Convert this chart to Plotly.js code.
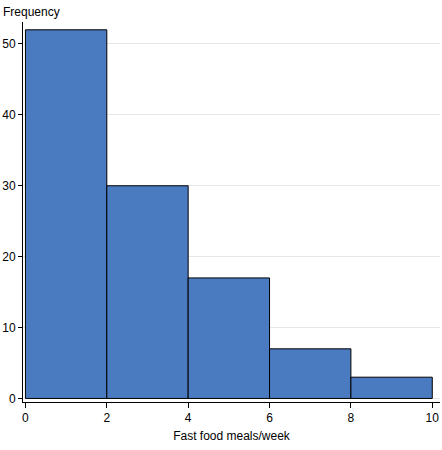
<!DOCTYPE html>
<html>
<head>
<meta charset="utf-8">
<script src="https://cdn.plot.ly/plotly-3.0.1.min.js"></script>
<style>body{margin:0;}</style>
</head>
<body>
<div id="chart" style="width:442px;height:450px;"></div>
<script>
// bin midpoints of 2-wide bins and their counts
let binMids = [1, 3, 5, 7, 9]
let counts = [52, 30, 17, 7, 3]
let xTicks = [0, 2, 4, 6, 8, 10]
let yTicks = [0, 10, 20, 30, 40, 50]

let data = [{
  x: binMids,
  y: counts,
  type: 'bar',
  width: 2,
  marker: {color: '#4a7bc1', line: {color: '#000000', width: 1}},
  hoverinfo: 'none'
}]

let layout = {
  width: 442,
  height: 450,
  margin: {l: 23, r: 2, t: 22, b: 48},
  font: {family: 'Liberation Sans, Arial, sans-serif', size: 12, color: '#000'},
  plot_bgcolor: '#fff',
  paper_bgcolor: '#fff',
  showlegend: false,
  bargap: 0,
  xaxis: {
    range: [-0.06, 10.19],
    tickvals: xTicks,
    tickfont: {size: 12},
    ticks: 'outside', ticklen: 5, tickcolor: '#000',
    showline: true, linecolor: '#000', linewidth: 1,
    showgrid: false, zeroline: false,
    title: {text: 'Fast food meals/week', standoff: 7, font: {size: 12}}
  },
  yaxis: {
    range: [-0.5, 53.1],
    tickvals: yTicks,
    tickfont: {size: 12},
    ticks: 'outside', ticklen: 4, tickcolor: '#000',
    showline: true, linecolor: '#000', linewidth: 1,
    showgrid: true, gridcolor: '#e6e6e6',
    zeroline: false
  },
  annotations: [{
    text: 'Frequency', xref: 'paper', yref: 'paper',
    x: 0, y: 1, xshift: -22, yshift: 10,
    xanchor: 'left', yanchor: 'middle', showarrow: false,
    font: {size: 12}
  }]
}

Plotly.newPlot('chart', data, layout, {displayModeBar: false, staticPlot: true})
</script>
</body>
</html>
